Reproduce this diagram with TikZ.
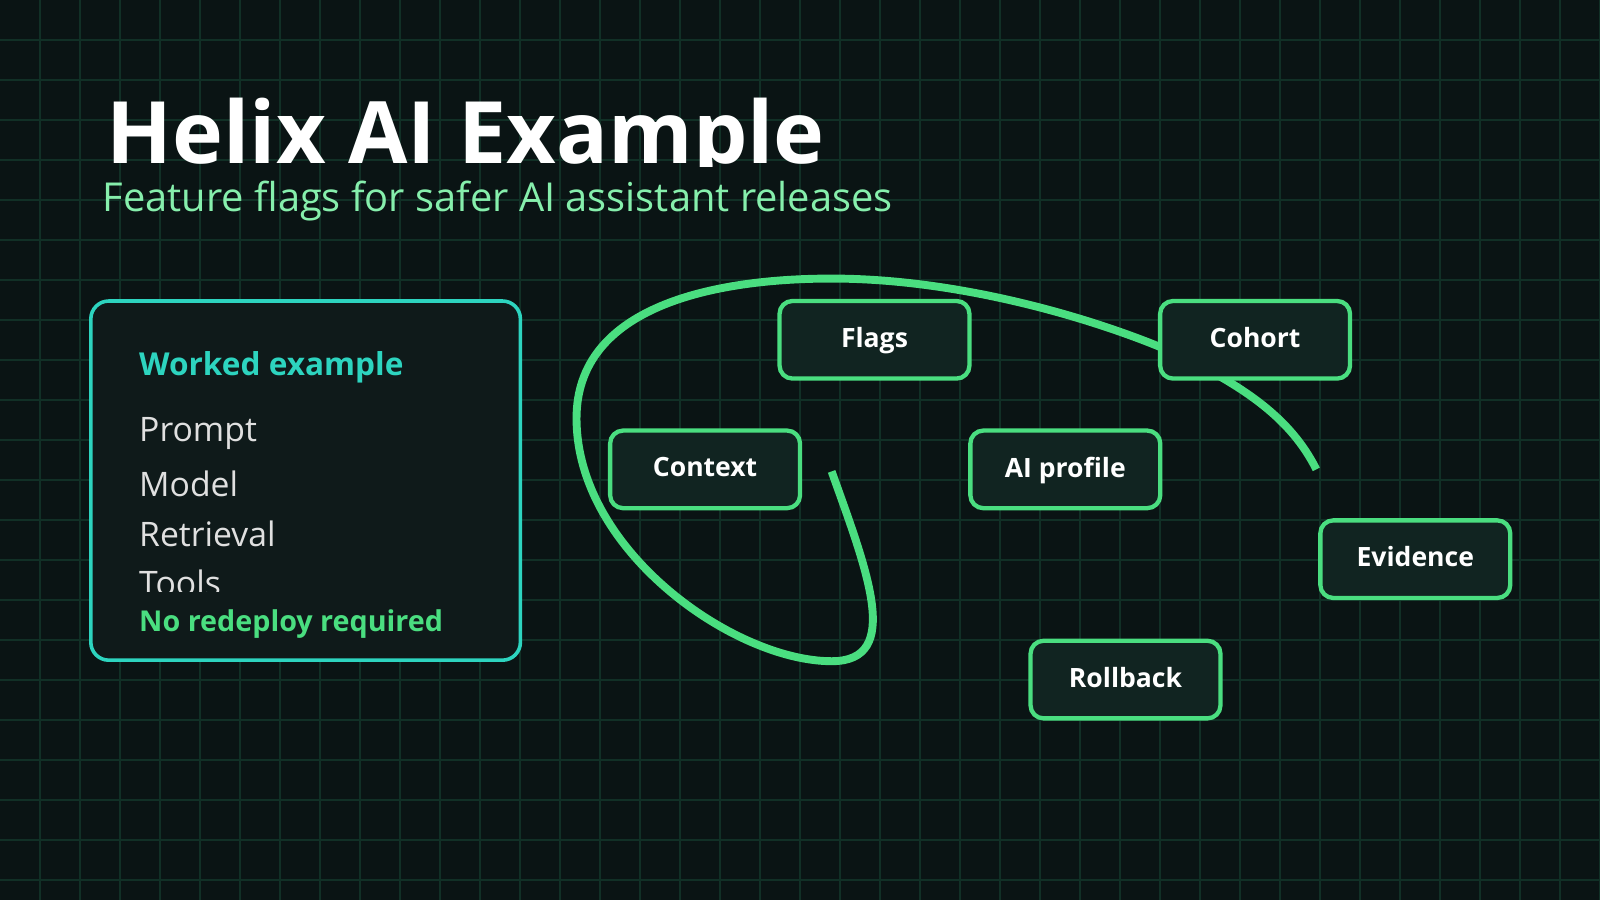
\documentclass[tikz,border=0pt]{standalone}
\usepackage{fontspec}
\setmainfont{Open Sans}
\usetikzlibrary{positioning}
\definecolor{bgc}{HTML}{0A1414}
\definecolor{gridc}{HTML}{113026}
\definecolor{panelc}{HTML}{0F1A1A}
\definecolor{tealc}{HTML}{2DD4BF}
\definecolor{greenc}{HTML}{4ADE80}
\definecolor{subc}{HTML}{86EFAC}
\definecolor{nodec}{HTML}{112421}
\tikzset{
  flagbox/.style={draw=greenc, line width=1.2pt, fill=nodec, rounded corners=3.6pt,
    minimum width=1.86cm, minimum height=0.76cm, text=white, text depth=0.25ex,
    font=\fontsize{7.4}{9}\selectfont\bfseries},
  item/.style={anchor=west, text=white!88!black, font=\fontsize{9.4}{11}\selectfont}
}
\begin{document}
\begin{tikzpicture}[x=0.01cm,y=0.01cm]
\fill[bgc] (0,0) rectangle (1568,882);
\useasboundingbox (0,0) rectangle (1568,882);
\foreach \i in {1,...,40} \draw[gridc, line width=0.4pt] (\i*39.2,0) -- (\i*39.2,882);
\foreach \j in {1,...,22} \draw[gridc, line width=0.4pt] (0,882-\j*39.2) -- (1568,882-\j*39.2);

% title
\begin{scope}
\clip (0,882-163) rectangle (1568,882);
\node[anchor=base west, text=white, inner sep=0, font=\fontsize{24}{28}\selectfont\bfseries]
  (title) at (104,882-160) {Helix AI Example};
\end{scope}
\node[anchor=base west, text=subc, inner sep=0, font=\fontsize{11.1}{14}\selectfont]
  (subtitle) at (100,882-207) {Feature flags for safer AI assistant releases};

% worked example panel
\draw[tealc, line width=1pt, fill=panelc, rounded corners=5pt] (89,882-295) rectangle (510,882-647);
\node[anchor=west, text=tealc, font=\fontsize{8.8}{10}\selectfont\bfseries] (worked) at (124,882-360) {Worked example};
\begin{scope}
\clip (100,882-580) rectangle (500,882-390);
\node[item] (prompt) at (124,882-425) {Prompt};
\node[item] (model) at (124,882-474) {Model};
\node[item] (retrieval) at (124,882-523) {Retrieval};
\node[item] (tools) at (124,882-571) {Tools};
\end{scope}
\node[anchor=west, text=greenc, font=\fontsize{8}{10}\selectfont\bfseries] (noredeploy) at (124,882-612) {No redeploy required};

% loop
\coordinate (s) at (815,882-462);
\coordinate (e) at (1290,882-460);
\draw[greenc, line width=2.2pt] (s) .. controls (850,882-560) and (885,882-648) .. (815,882-648)
  .. controls (720,882-648) and (565,882-540) .. (565,882-410)
  .. controls (565,882-300) and (700,882-273) .. (815,882-273)
  .. controls (950,882-273) and (1090,882-318) .. (1160,882-350)
  .. controls (1220,882-380) and (1265,882-410) .. (e);

% nodes
\node[flagbox] (flags) at (857,882-333) {Flags};
\node[flagbox] (cohort) at (1230,882-333) {Cohort};
\node[flagbox] (context) at (691,882-460) {Context};
\node[flagbox] (aiprofile) at (1044,882-460) {AI profile};
\node[flagbox] (evidence) at (1387,882-548) {Evidence};
\node[flagbox] (rollback) at (1103,882-666) {Rollback};
\end{tikzpicture}
\end{document}
